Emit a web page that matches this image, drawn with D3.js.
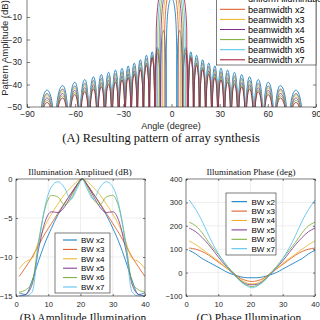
<!DOCTYPE html>
<html><head><meta charset="utf-8">
<script src="https://cdn.jsdelivr.net/npm/d3@7/dist/d3.min.js"></script>
<style>html,body{margin:0;padding:0;background:#fff;}svg{display:block;}</style>
</head><body>
<svg id="chart" width="320" height="320" xmlns="http://www.w3.org/2000/svg"></svg>
<script>
// ---------------- (A) radiation pattern data ----------------
const angleTicks = [-90, -60, -30, 0, 30, 60, 90];
const dbTicks = [-50, -40, -30, -20, -10, 0];
const patternNames = ["uniform illumination", "beamwidth x2", "beamwidth x3", "beamwidth x4", "beamwidth x5", "beamwidth x6", "beamwidth x7"];
const patternColors = ["#0072BD", "#D95319", "#EDB120", "#7E2F8E", "#77AC30", "#4DBEEE", "#A2142F"];
// side-lobe peak angles (deg), the pattern is symmetric about 0
const sidelobeAngles = [5.0, 8.8, 12.0, 15.6, 19.4, 23.2, 27.0, 30.8, 34.9, 39.2, 43.7, 48.6, 54.0, 60.2, 67.8, 77.5];
// side-lobe peak levels (dB) per series (null = inside the main beam)
const lobesUniform = [-16, -23.5, -25.5, -27, -29, -30.5, -31.8, -32.8, -33.6, -34.6, -35.6, -36.6, -37.8, -39, -40.5, -42.5];
const lobesX2 = [null, -24.5, -27, -28.5, -30.5, -32, -33.3, -34.3, -35.2, -36.2, -37.2, -38.2, -39.4, -40.6, -42, -44];
const lobesX3 = [null, -25.5, -28, -29.5, -31.5, -33, -34.3, -35.3, -36.2, -37.2, -38.2, -39.2, -40.4, -41.6, -43, -45];
const lobesX4 = [null, -26, -28.5, -30.5, -32.5, -34, -35.3, -36.3, -37.2, -38.2, -39.2, -40.2, -41.4, -42.6, -44, -46];
const lobesX5 = [null, null, -27.5, -31, -33, -34.8, -36.2, -37.2, -38.2, -39.2, -40.2, -41.2, -42.4, -43.6, -45, -47];
const lobesX6 = [null, null, -27, -28.8, -30.8, -32.3, -33.6, -34.6, -35.4, -36.4, -37.4, -38.4, -39.6, -40.8, -42.3, -44.3];
const lobesX7 = [null, null, -28, -31.5, -33.5, -35.5, -37, -38, -39, -40, -41, -42, -43.2, -44.5, -46, -48];
// main-beam half widths (deg) at the -50 dB floor and at -3 dB
const mainFloorHalfWidth = [3.4, 4.6, 5.8, 6.9, 7.9, 8.9, 9.9];
const mainTopHalfWidth = [1.2, 3.0, 4.2, 5.2, 6.2, 7.2, 8.2];

// ---------------- (B), (C) illumination data ----------------
const elementIndex = [1, 3, 5, 7, 9, 11, 13, 15, 17, 19, 20.5, 22, 24, 26, 28, 30, 32, 34, 36, 38, 40];
const elementTicks = [0, 10, 20, 30, 40];
const ampTicks = [0, -5, -10, -15];
const phaseTicks = [400, 300, 200, 100, 0, -100];
const illumNames = ["BW x2", "BW x3", "BW x4", "BW x5", "BW x6", "BW x7"];
const illumColors = ["#0072BD", "#D95319", "#EDB120", "#7E2F8E", "#77AC30", "#4DBEEE"];
// amplitude (dB)
const ampX2 = [-14.6, -14.8, -13, -10.5, -8.2, -6.3, -4.6, -3.2, -1.9, -0.7, 0, -0.7, -1.9, -3.2, -4.6, -6.3, -8.2, -10.5, -13, -14.8, -14.6];
const ampX3 = [-12.5, -11.3, -10, -8.5, -7, -5.7, -4.4, -3.1, -1.9, -0.7, 0, -0.7, -1.9, -3.1, -4.4, -5.7, -7, -8.5, -10, -11.3, -12.5];
const ampX4 = [-11.5, -10.6, -10.2, -8, -6, -4.5, -3.2, -2, -1.1, -0.3, 0, -0.3, -1.1, -2, -3.2, -4.5, -6, -8, -10.2, -10.6, -11.5];
const ampX5 = [-15, -14.8, -13.5, -9, -5.5, -4.2, -4.3, -3.6, -2.2, -0.7, 0, -0.7, -2.2, -3.6, -4.3, -4.2, -5.5, -9, -13.5, -14.8, -15];
const ampX6 = [-14.5, -14.2, -13.3, -8, -3.8, -2.1, -2.3, -3.3, -2.6, -0.9, 0, -0.9, -2.6, -3.3, -2.3, -2.1, -3.8, -8, -13.3, -14.2, -14.5];
const ampX7 = [-15, -15, -14.5, -8.5, -3.5, -1.0, -0.35, -1.1, -2.6, -1.2, 0, -1.2, -2.6, -1.1, -0.35, -1.0, -3.5, -8.5, -14.5, -15, -15];
// phase (deg)
const phaseX2 = [95, 80, 60, 45, 30, 15, 0, -10, -18, -22, -22, -22, -18, -10, 0, 15, 30, 45, 60, 80, 95];
const phaseX3 = [105, 100, 90, 75, 55, 35, 15, -5, -25, -35, -38, -35, -25, -5, 15, 35, 55, 75, 90, 100, 105];
const phaseX4 = [135, 120, 100, 80, 60, 40, 15, -10, -30, -45, -48, -45, -30, -10, 15, 40, 60, 80, 100, 120, 135];
const phaseX5 = [190, 175, 150, 120, 85, 50, 20, -10, -35, -50, -52, -50, -35, -10, 20, 50, 85, 120, 150, 175, 190];
const phaseX6 = [215, 200, 170, 130, 95, 60, 25, -5, -35, -55, -60, -55, -35, -5, 25, 60, 95, 130, 170, 200, 215];
const phaseX7 = [310, 270, 220, 160, 105, 60, 20, -10, -40, -58, -65, -58, -40, -10, 20, 60, 105, 160, 220, 270, 310];

// ---------------- drawing ----------------
const svg = d3.select("#chart");
const SANS = "'Liberation Sans', Arial, Helvetica, sans-serif";
const SERIF = "'Liberation Serif', 'Times New Roman', serif";
const AX = "#262626";
const TXT = "#262626";

function frame(g, x, y, xt, yt) {
  const [x0, x1] = x.range(), [y0, y1] = y.range();
  g.append("g").selectAll("line").data(xt.filter(v => v !== x.domain()[0] && v !== x.domain()[1]))
    .join("line").attr("x1", d => x(d)).attr("x2", d => x(d)).attr("y1", y0).attr("y2", y1)
    .attr("stroke", "#e3e3e3").attr("stroke-width", 0.6);
  g.append("g").selectAll("line").data(yt.filter(v => v !== y.domain()[0] && v !== y.domain()[1]))
    .join("line").attr("y1", d => y(d)).attr("y2", d => y(d)).attr("x1", x0).attr("x2", x1)
    .attr("stroke", "#e3e3e3").attr("stroke-width", 0.6);
}
function axes(g, x, y, xt, yt, o) {
  const [x0, x1] = x.range(), [y0, y1] = y.range();
  const st = sel => {
    sel.select(".domain").remove();
    sel.selectAll(".tick line").attr("stroke", AX).attr("stroke-width", 0.6);
    sel.selectAll("text").attr("fill", TXT).style("font-family", SANS).style("font-size", o.fs + "px");
  };
  g.append("g").attr("transform", `translate(0,${y0})`)
    .call(d3.axisBottom(x).tickValues(xt).tickSize(-o.tick).tickPadding(o.xPad)).call(st);
  g.append("g").attr("transform", `translate(0,${y1})`)
    .call(d3.axisTop(x).tickValues(xt).tickSize(-o.tick).tickFormat("")).call(st);
  g.append("g").attr("transform", `translate(${x0},0)`)
    .call(d3.axisLeft(y).tickValues(yt).tickSize(-o.tick).tickPadding(o.yPad)).call(st);
  g.append("g").attr("transform", `translate(${x1},0)`)
    .call(d3.axisRight(y).tickValues(yt).tickSize(-o.tick).tickFormat("")).call(st);
  g.append("rect").attr("x", x0).attr("y", y1).attr("width", x1 - x0).attr("height", y0 - y1)
    .attr("fill", "none").attr("stroke", AX).attr("stroke-width", 0.6);
}
function legend(g, x, y, w, h, names, colors, o) {
  g.append("rect").attr("x", x).attr("y", y).attr("width", w).attr("height", h)
    .attr("fill", "#fff").attr("stroke", AX).attr("stroke-width", 0.6);
  names.forEach((n, i) => {
    const yy = o.y0 + i * o.dy;
    g.append("line").attr("x1", o.lx0).attr("x2", o.lx1).attr("y1", yy).attr("y2", yy)
      .attr("stroke", colors[i]).attr("stroke-width", 1);
    g.append("text").attr("x", o.tx).attr("y", yy).attr("dy", "0.35em").text(n)
      .attr("fill", "#000").style("font-family", SANS).style("font-size", o.fs + "px");
  });
}

// ----- (A) -----
const xA = d3.scaleLinear().domain([-90, 90]).range([27, 316]);
const yA = d3.scaleLinear().domain([-50, 0]).range([107, -5.5]);
const gA = svg.append("g");
svg.append("clipPath").attr("id", "clipA").append("rect")
  .attr("x", 27).attr("y", -10).attr("width", 289).attr("height", 117);
const lobeSets = [lobesUniform, lobesX2, lobesX3, lobesX4, lobesX5, lobesX6, lobesX7];
function patternPoints(s) {
  const lv = lobeSets[s], wF = mainFloorHalfWidth[s], wT = mainTopHalfWidth[s];
  const half = [];
  const peak = -3 - 20 * Math.log10(Math.cos(Math.PI * (wT / wF) / 2));
  for (let k = 0; k <= 24; k++) {
    const r = k / 24;
    half.push([r * wF, peak + 20 * Math.log10(Math.max(Math.cos(Math.PI * r / 2), 1e-4))]);
  }
  const n = sidelobeAngles.length;
  lv.forEach((lvl, i) => {
    if (lvl == null) return;
    const a = sidelobeAngles[i];
    const inner = i > 0 ? Math.max(wF, (sidelobeAngles[i - 1] + a) / 2) : wF;
    const outer = i < n - 1 ? (a + sidelobeAngles[i + 1]) / 2 : a + (a - sidelobeAngles[i - 1]) / 2;
    for (let k = 0; k <= 20; k++) {
      const t = k / 20;
      const th = t < 0.5 ? inner + (a - inner) * t * 2 : a + (outer - a) * (t - 0.5) * 2;
      half.push([th, lvl + 20 * Math.log10(Math.max(Math.sin(Math.PI * t), 1e-4))]);
    }
  });
  const neg = half.slice(1).map(d => [-d[0], d[1]]).reverse();
  return neg.concat(half).map(d => [d[0], Math.max(d[1], -80)]);
}
const lineA = d3.line().x(d => xA(d[0])).y(d => yA(d[1]));
const plotA = gA.append("g").attr("clip-path", "url(#clipA)");
patternNames.forEach((n, s) => {
  plotA.append("path").attr("d", lineA(patternPoints(s))).attr("fill", "none")
    .attr("stroke", patternColors[s]).attr("stroke-width", 0.8).attr("stroke-linejoin", "round");
});
axes(gA, xA, yA, angleTicks, dbTicks, { tick: 3, xPad: 4, yPad: 5, fs: 8.5 });
legend(gA, 216.5, -8, 99.5, 73, patternNames, patternColors,
  { y0: -0.8, dy: 10.1, lx0: 220, lx1: 245, tx: 248, fs: 9.2 });
gA.append("text").attr("x", 171).attr("y", 129).attr("text-anchor", "middle").text("Angle (degree)")
  .attr("fill", TXT).style("font-family", SANS).style("font-size", "9px");
gA.append("text").attr("transform", "translate(8,48) rotate(-90)").attr("text-anchor", "middle")
  .text("Pattern Amplitude (dB)").attr("fill", TXT).style("font-family", SANS).style("font-size", "9.5px");
svg.append("text").attr("x", 161).attr("y", 141.5).attr("text-anchor", "middle")
  .text("(A) Resulting pattern of array synthesis").attr("fill", "#111")
  .style("font-family", SERIF).style("font-size", "12.5px");

// ----- (B) -----
const xB = d3.scaleLinear().domain([0, 40]).range([16, 145]);
const yB = d3.scaleLinear().domain([-15, 0]).range([296, 179]);
const gB = svg.append("g");
frame(gB, xB, yB, elementTicks, ampTicks);
svg.append("clipPath").attr("id", "clipB").append("rect")
  .attr("x", 16).attr("y", 178).attr("width", 129).attr("height", 118.5);
const ampSets = [ampX2, ampX3, ampX4, ampX5, ampX6, ampX7];
const lineB = d3.line().x((d, i) => xB(elementIndex[i])).y(d => yB(d)).curve(d3.curveMonotoneX);
const plotB = gB.append("g").attr("clip-path", "url(#clipB)");
ampSets.forEach((arr, s) => plotB.append("path").attr("d", lineB(arr)).attr("fill", "none")
  .attr("stroke", illumColors[s]).attr("stroke-width", 0.8));
axes(gB, xB, yB, elementTicks, ampTicks, { tick: 2, xPad: 6, yPad: 3.5, fs: 7.6 });
legend(gB, 55, 233, 55, 60, illumNames, illumColors,
  { y0: 240, dy: 9.4, lx0: 63, lx1: 77, tx: 81, fs: 8 });
gB.append("text").attr("x", 80).attr("y", 175).attr("text-anchor", "middle")
  .text("Illumination Amplitued (dB)").attr("fill", "#111").style("font-family", SERIF).style("font-size", "9px");
svg.append("text").attr("x", 83).attr("y", 321.5).attr("text-anchor", "middle")
  .text("(B) Amplitude Illumination").attr("fill", "#111").style("font-family", SERIF).style("font-size", "11.5px");

// ----- (C) -----
const xC = d3.scaleLinear().domain([0, 40]).range([186, 315]);
const yC = d3.scaleLinear().domain([-100, 400]).range([296, 179]);
const gC = svg.append("g");
frame(gC, xC, yC, elementTicks, phaseTicks);
const phaseSets = [phaseX2, phaseX3, phaseX4, phaseX5, phaseX6, phaseX7];
const lineC = d3.line().x((d, i) => xC(elementIndex[i])).y(d => yC(d)).curve(d3.curveMonotoneX);
phaseSets.forEach((arr, s) => gC.append("path").attr("d", lineC(arr)).attr("fill", "none")
  .attr("stroke", illumColors[s]).attr("stroke-width", 0.8));
axes(gC, xC, yC, elementTicks, phaseTicks, { tick: 2, xPad: 6, yPad: 3.5, fs: 7.6 });
legend(gC, 226, 193, 50, 62, illumNames, illumColors,
  { y0: 201.7, dy: 9.4, lx0: 231.5, lx1: 247, tx: 251.5, fs: 8 });
gC.append("text").attr("x", 251).attr("y", 175).attr("text-anchor", "middle")
  .text("Illumination Phase (deg)").attr("fill", "#111").style("font-family", SERIF).style("font-size", "9px");
svg.append("text").attr("x", 249).attr("y", 321.5).attr("text-anchor", "middle")
  .text("(C) Phase Illumination").attr("fill", "#111").style("font-family", SERIF).style("font-size", "11.5px");
</script>
</body></html>
